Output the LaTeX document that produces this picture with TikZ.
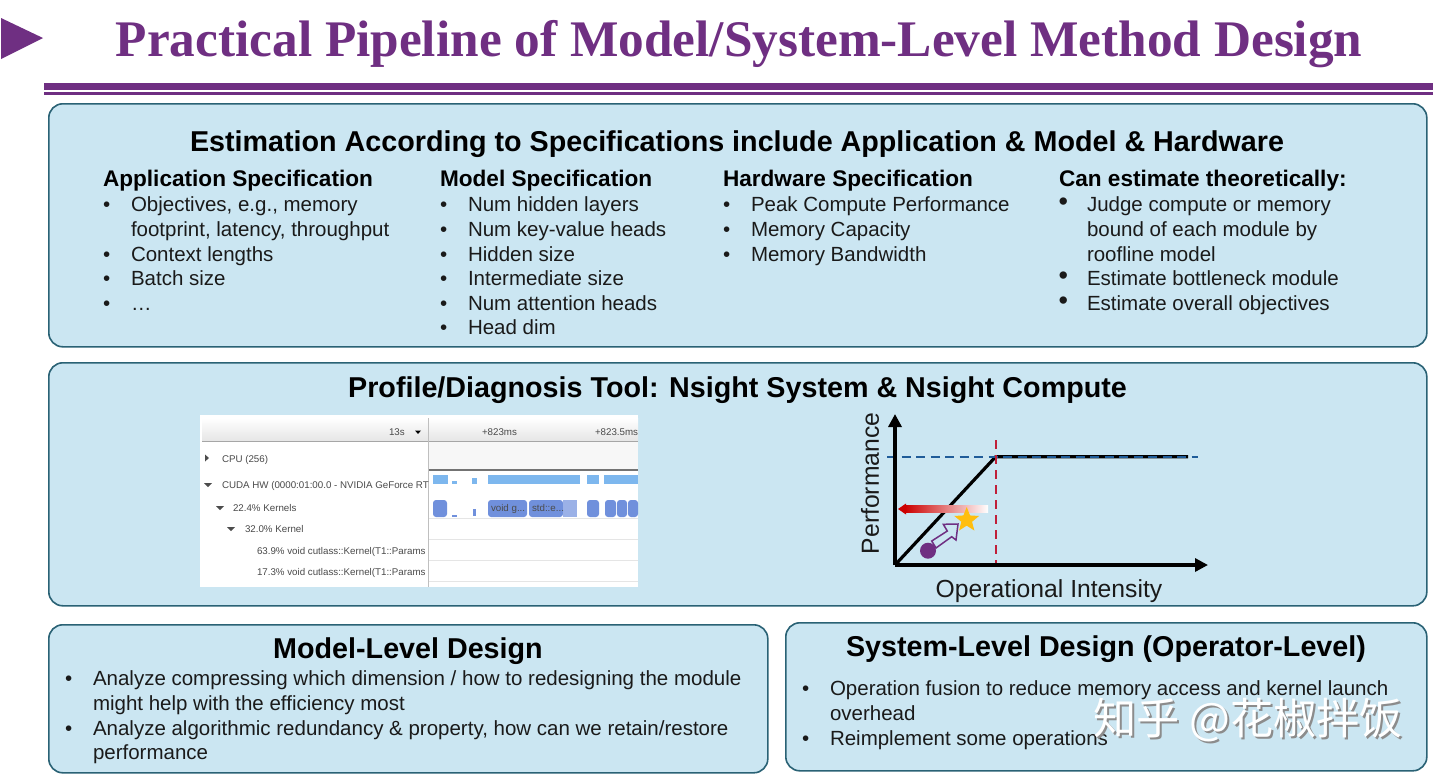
\documentclass[tikz,border=0pt]{standalone}
\usepackage{fontspec}
\setmainfont{Liberation Sans}
\newfontfamily\titlefont{Liberation Serif}
\newfontfamily\cjkfont{Noto Sans CJK SC}
\usetikzlibrary{shapes.geometric,arrows.meta}
\definecolor{purp}{HTML}{6F2F82}
\definecolor{boxfill}{HTML}{CBE6F2}
\definecolor{boxline}{HTML}{2A6275}
\definecolor{txt}{HTML}{1A1A1A}
\definecolor{scrtxt}{HTML}{4A4A4A}
\definecolor{blockA}{HTML}{7DB7EE}
\definecolor{blockB}{HTML}{7090DC}
\definecolor{reddash}{HTML}{C0203A}
\definecolor{bluedash}{HTML}{1F5C99}
\definecolor{stargold}{HTML}{FFBE0F}
\newcounter{tl}
\newcommand{\tline}[3]{\stepcounter{tl}\node[bodytext] (tl\arabic{tl}) at (#1,#2) {#3};}
\newcommand{\thead}[3]{\stepcounter{tl}\node[headtext] (tl\arabic{tl}) at (#1,#2) {#3};}
\newcommand{\tbul}[3]{\stepcounter{tl}\node[bodytext] (tl\arabic{tl}) at (#1,#2) {•};\stepcounter{tl}\node[bodytext] (tl\arabic{tl}) at (#1+28,#2) {#3};}
\newcommand{\tbulB}[3]{\stepcounter{tl}\node[bodytext,font=\fontsize{27}{27}\selectfont] (tl\arabic{tl}) at (#1-0.5,#2-0.5) {•};\stepcounter{tl}\node[bodytext] (tl\arabic{tl}) at (#1+28,#2) {#3};}
\newcommand{\scr}[3]{\stepcounter{tl}\node[scrtext] (tl\arabic{tl}) at (#1,#2) {#3};}
\tikzset{
  card/.style={draw=boxline,line width=1.6pt,fill=boxfill,rounded corners=14pt},
  bodytext/.style={anchor=base west,inner sep=0pt,outer sep=0pt,text=txt,font=\fontsize{20.5}{24}\selectfont},
  headtext/.style={anchor=base west,inner sep=0pt,outer sep=0pt,text=black,font=\fontsize{22.6}{26}\selectfont\bfseries},
  cardtitle/.style={anchor=base,inner sep=0pt,outer sep=0pt,text=black,font=\fontsize{28.7}{32}\selectfont\bfseries},
  scrtext/.style={anchor=base west,inner sep=0pt,outer sep=0pt,text=scrtxt,font=\fontsize{9.75}{11}\selectfont},
  chartlabel/.style={inner sep=0pt,outer sep=0pt,text=txt,font=\fontsize{24.7}{28}\selectfont},
  axisline/.style={line width=3.2pt,black},
  blocktop/.style={fill=blockA,draw=none},
  blockbot/.style={fill=blockB,draw=none,rounded corners=3pt},
}
\begin{document}
\begin{tikzpicture}[x=1pt,y=-1pt]
\useasboundingbox (0,0) rectangle (1440,779);
\fill[white] (0,0) rectangle (1440,779);
% header
\fill[purp] (1,18) -- (43,38) -- (1,59) -- cycle;
\node[anchor=base,inner sep=0pt,text=purp,font=\titlefont\bfseries\fontsize{51.3}{56}\selectfont] (title) at (739,56) {Practical Pipeline of Model/System-Level Method Design};
\fill[purp] (44,83) rectangle (1433,89.5);
\fill[purp] (44,92) rectangle (1433,94.5);
% cards
\node[card,minimum width=1378pt,minimum height=243pt,anchor=north west,inner sep=0pt] (spec) at (48,103) {};
\node[card,minimum width=1378pt,minimum height=243pt,anchor=north west,inner sep=0pt] (tool) at (48,362) {};
\node[card,minimum width=719pt,minimum height=148pt,anchor=north west,inner sep=0pt] (model) at (48,624) {};
\node[card,minimum width=641pt,minimum height=148pt,anchor=north west,inner sep=0pt] (system) at (785,622) {};
\node[cardtitle] (specT) at (737,151) {Estimation According to Specifications include Application \& Model \& Hardware};
\node[cardtitle] (toolT) at (737.5,397) {Profile/Diagnosis Tool: Nsight System \& Nsight Compute};
\node[cardtitle] (modelT) at (408,658.5) {Model-Level Design};
\node[cardtitle] (systemT) at (1106,656) {System-Level Design (Operator-Level)};
% spec columns
\thead{103}{186.5}{Application Specification}
\tbul{103}{211}{Objectives, e.g., memory}
\tline{131}{236}{footprint, latency, throughput}
\tbul{103}{261}{Context lengths}
\tbul{103}{285}{Batch size}
\tbul{103}{310}{…}
\thead{440}{186.5}{Model Specification}
\tbul{440}{211}{Num hidden layers}
\tbul{440}{236}{Num key-value heads}
\tbul{440}{261}{Hidden size}
\tbul{440}{285}{Intermediate size}
\tbul{440}{310}{Num attention heads}
\tbul{440}{334}{Head dim}
\thead{723}{186.5}{Hardware Specification}
\tbul{723}{211}{Peak Compute Performance}
\tbul{723}{236}{Memory Capacity}
\tbul{723}{261}{Memory Bandwidth}
\thead{1059}{186.5}{Can estimate theoretically:}
\tbulB{1059}{211}{Judge compute or memory}
\tline{1087}{236}{bound of each module by}
\tline{1087}{261}{roofline model}
\tbulB{1059}{285}{Estimate bottleneck module}
\tbulB{1059}{310}{Estimate overall objectives}
% model
\tbul{65}{685}{Analyze compressing which dimension / how to redesigning the module}
\tline{93}{710}{might help with the efficiency most}
\tbul{65}{735}{Analyze algorithmic redundancy \& property, how can we retain/restore}
\tline{93}{759}{performance}
% system
\tbul{802}{695}{Operation fusion to reduce memory access and kernel launch}
\tline{830}{720}{overhead}
\tbul{802}{745}{Reimplement some operations}
% screenshot
\fill[white] (200,415) rectangle (638,587);
\shade[top color=white,bottom color=black!10] (202,418) rectangle (638,441);
\draw[black!35,line width=0.8pt] (202,441.5) -- (638,441.5);
\fill[black!3] (428,442) rectangle (638,470);
\draw[black!55,line width=1.4pt] (428,470) -- (638,470);
\foreach \yy in {518,539,560,581} \draw[black!10,line width=0.6pt] (428,\yy) -- (638,\yy);
\draw[black!25,line width=0.8pt] (428,418) -- (428,587);
\begin{scope}
\clip (202,415) rectangle (428,587);
\scr{389}{435}{13s}
\scr{222}{462}{CPU (256)}
\scr{222}{488.5}{CUDA HW (0000:01:00.0 - NVIDIA GeForce RT}
\scr{233}{511}{22.4\% Kernels}
\scr{245}{532.5}{32.0\% Kernel}
\scr{257}{554}{63.9\% void cutlass::Kernel(T1::Params}
\scr{257}{575}{17.3\% void cutlass::Kernel(T1::Params}
\end{scope}
\begin{scope}
\clip (428,415) rectangle (638,587);
\scr{482}{435}{+823ms}
\scr{595}{435}{+823.5ms}
\fill[blocktop] (433,475) rectangle (448,484);
\fill[blocktop] (452,481) rectangle (457,484);
\fill[blocktop] (472,478) rectangle (477,484);
\fill[blocktop] (488,475) rectangle (580,484);
\fill[blocktop] (587,475) rectangle (599,484);
\fill[blocktop] (604,475) rectangle (638,484);
\fill[blockbot] (433,500) rectangle (447,517);
\fill[blockbot] (488,500) rectangle (527,517);
\fill[blockbot] (529,500) rectangle (563,517);
\fill[blockB!70] (563,500) rectangle (577,517);
\fill[blockbot] (587,500) rectangle (599,517);
\fill[blockbot] (605,500) rectangle (616,517);
\fill[blockbot] (617,500) rectangle (627,517);
\fill[blockbot] (628,500) rectangle (638,517);
\fill[blockB] (452,515) rectangle (457,517);
\fill[blockB] (473,509) rectangle (476,516);
\scr{491}{511}{\color{black!70}void g...}
\scr{532}{511}{\color{black!70}std::e...}
\end{scope}
\fill[black] (415,430.5) -- (421,430.5) -- (418,434) -- cycle;
\fill[black!70] (205,454.5) -- (209,458) -- (205,461.5) -- cycle;
\fill[black!70] (204,483) -- (212,483) -- (208,487) -- cycle;
\fill[black!70] (216,506) -- (224,506) -- (220,510) -- cycle;
\fill[black!70] (227,527) -- (235,527) -- (231,531) -- cycle;
% chart
\coordinate (origin) at (895,565);
\coordinate (knee) at (995.7,456.7);
\coordinate (ytop) at (895,414);
\coordinate (xend) at (1208,565);
\coordinate (flatend) at (1188,456.7);
\coordinate (dashL) at (887,456.7);
\coordinate (dashR) at (1198,456.7);
\coordinate (redT) at (995.7,440);
\coordinate (redB) at (995.7,565);
\draw[axisline,line join=round] (origin) -- (knee) -- (flatend);
\draw[bluedash,line width=2.3pt,dash pattern=on 9pt off 5.5pt] (dashL) -- (dashR);
\draw[reddash,line width=1.8pt,dash pattern=on 9pt off 6pt] (redT) -- (redB);
\draw[axisline,-{Triangle[length=13pt,width=13pt]}] (origin) -- (ytop);
\draw[axisline,-{Triangle[length=13pt,width=13pt]}] (origin) -- (xend);
\shade[left color=red!80!black,right color=white] (905,505.5) rectangle (988,512.5);
\fill[red!80!black] (898,509) -- (906,503.5) -- (906,514.5) -- cycle;
\draw[purp,fill=boxfill,line width=1.5pt,line join=miter]
  (931.7,541) -- (947.3,531) -- (943.3,524.3) -- (958,524) -- (956,540) -- (951.7,536.7) -- (936,548) -- cycle;
\node[star,star points=5,star point ratio=2.3,fill=stargold,inner sep=0pt,minimum size=26pt] (goal) at (966.7,520) {};
\node[circle,fill=purp,inner sep=0pt,minimum size=16pt] (dot) at (928,550.7) {};
\node[chartlabel,rotate=90] (ylab) at (870,483.5) {Performance};
\node[chartlabel] (xlab) at (1049,591) {Operational Intensity};
% watermark
\node[anchor=base west,inner sep=0pt,text=black!45,font=\cjkfont\fontsize{43.2}{48}\selectfont] (wmS) at (1095,736) {知乎 @花椒拌饭};
\node[anchor=base west,inner sep=0pt,text=white,font=\cjkfont\fontsize{43.2}{48}\selectfont] (wm) at (1093,734) {知乎 @花椒拌饭};
\end{tikzpicture}
\end{document}
